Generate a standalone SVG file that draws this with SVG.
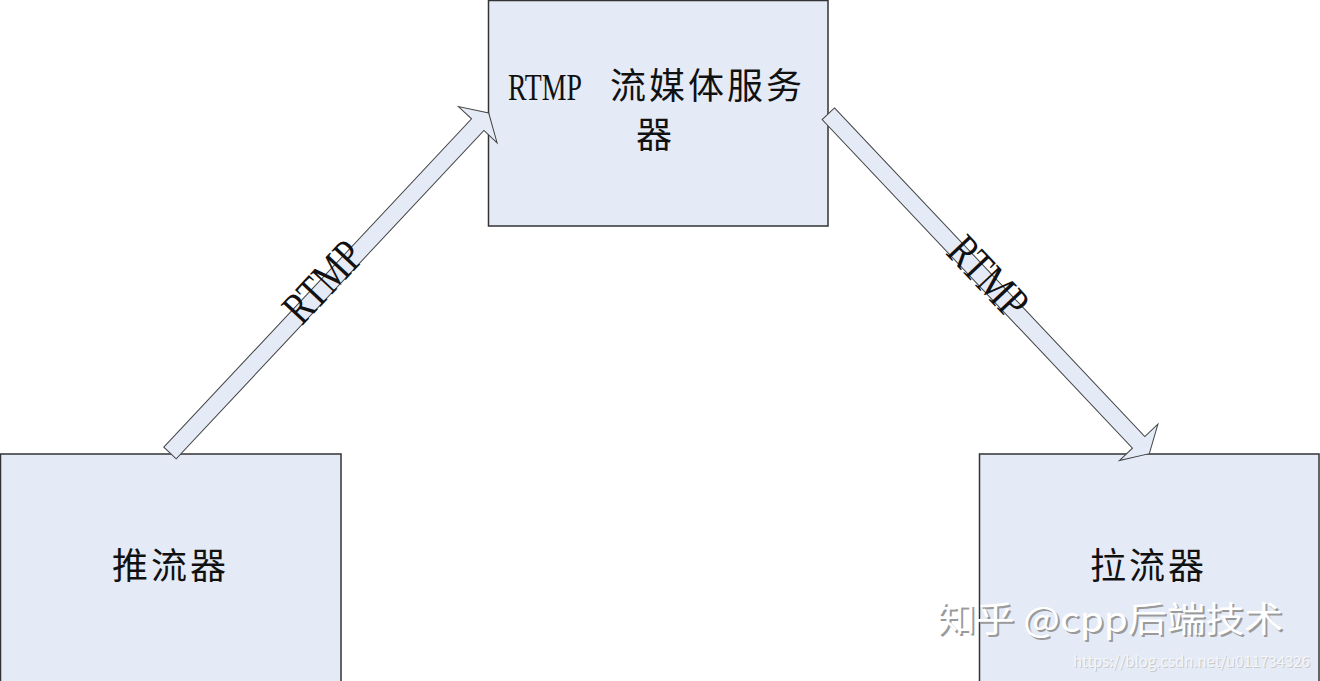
<svg xmlns="http://www.w3.org/2000/svg" width="1320" height="681" viewBox="0 0 1320 681">
<style>
.box{fill:#e5ebf6;stroke:#333;stroke-width:1.5}
.arrow{fill:#e5ebf6;stroke:#444;stroke-width:1}
.lbl{font-family:"Liberation Serif","Noto Sans CJK SC",serif;fill:#111}
.cjk{font-family:"Noto Sans CJK SC","Liberation Serif",serif;fill:#111;font-size:36px;letter-spacing:3px}
.wm{font-family:"Noto Sans CJK SC","Liberation Sans",sans-serif}
</style>
<rect width="1320" height="681" fill="#fff"/>
<g id="server">
<rect class="box" x="488.5" y="0.5" width="339.5" height="225.5"/>
<text class="lbl" x="508" y="100" font-size="38" textLength="74" lengthAdjust="spacingAndGlyphs">RTMP</text>
<text class="cjk" x="610" y="99">流媒体服务</text>
<text class="cjk" x="636" y="148">器</text>
</g>
<g id="pusher">
<rect class="box" x="0.5" y="454" width="340.5" height="232"/>
<text class="cjk" x="112" y="579">推流器</text>
</g>
<g id="puller">
<rect class="box" x="979.5" y="454" width="339.5" height="232"/>
<text class="cjk" x="1090" y="579">拉流器</text>
</g>
<g id="connectors">
<g transform="translate(170,453) rotate(-46.85)">
<path class="arrow" d="M0,-8.5 L450,-8.5 L450,-26.5 L466,0 L450,26.5 L450,8.5 L0,8.5 Z"/>
</g>
<g transform="translate(828.3,113.7) rotate(46.64)">
<path class="arrow" d="M0,-8.5 L452,-8.5 L452,-26.5 L467.6,0 L452,26.5 L452,8.5 L0,8.5 Z"/>
</g>
<g transform="translate(323,282) rotate(-46.85)">
<text class="lbl" x="0" y="15" font-size="46" text-anchor="middle" textLength="94" lengthAdjust="spacingAndGlyphs">RTMP</text>
</g>
<g transform="translate(988,277) rotate(46.64)">
<text class="lbl" x="0" y="15" font-size="46" text-anchor="middle" textLength="94" lengthAdjust="spacingAndGlyphs">RTMP</text>
</g>
</g>
<g id="watermark">
<text class="wm" x="939" y="634" font-size="35" fill="#9a9a9a" textLength="346" lengthAdjust="spacingAndGlyphs">知乎 @cpp后端技术</text>
<text class="wm" x="937" y="632" font-size="35" fill="#ffffff" textLength="346" lengthAdjust="spacingAndGlyphs">知乎 @cpp后端技术</text>
<text class="wm" x="1074" y="668" font-size="15" fill="#c8c8c8" textLength="237" lengthAdjust="spacingAndGlyphs">https://blog.csdn.net/u011734326</text>
<text class="wm" x="1073" y="667" font-size="15" fill="#f4f6fa" textLength="237" lengthAdjust="spacingAndGlyphs">https://blog.csdn.net/u011734326</text>
</g>
</svg>
